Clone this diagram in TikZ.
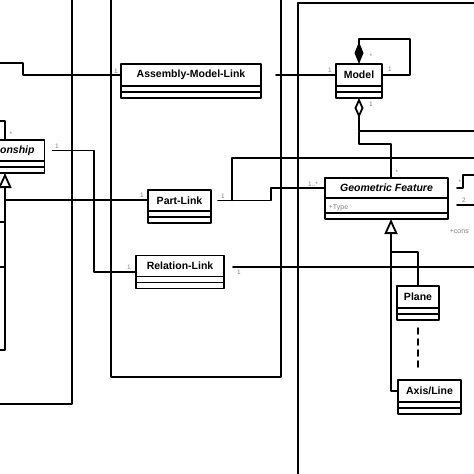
\documentclass[tikz,border=0pt]{standalone}
\usepackage{fontspec}
\setmainfont{Liberation Sans}
\usetikzlibrary{arrows.meta}

\begin{document}
\begin{tikzpicture}[x=1pt,y=-1pt,line cap=round,line join=round,line width=1.8pt,
    umlclass/.style={draw,fill=white,inner sep=0pt,outer sep=0pt,font=\fontsize{10.5}{12}\selectfont\bfseries},
    mult/.style={inner sep=0pt,text=gray,font=\fontsize{6.5}{7}\selectfont},
    attr/.style={inner sep=0pt,text=gray,font=\fontsize{7}{8}\selectfont},
    gen/.style={{Triangle[open,length=15pt,width=13pt]}-},
    agg/.style={{Diamond[open,length=20pt,width=9pt]}-},
    comp/.style={{Diamond[length=22pt,width=9pt]}-}]
    \useasboundingbox (0,0) rectangle (474,474);
    % packages
    \draw (-10,-10) rectangle (72,404);
    \draw (111,-10) rectangle (281,377);
    \draw (298,3) rectangle (490,490);
    % classes
    \node[umlclass,minimum width=140pt,minimum height=22pt] (aml) at (191,75) {Assembly-Model-Link};
    \node[umlclass,minimum width=46pt,minimum height=22pt] (model) at (359,75) {Model};
    \node[umlclass,minimum width=63pt,minimum height=21pt] (pl) at (179.5,200.5) {Part-Link};
    \node[umlclass,minimum width=88pt,minimum height=21pt] (rl) at (180,266) {Relation-Link};
    \node[umlclass,minimum width=83pt,minimum height=21pt,font=\fontsize{10.5}{12}\selectfont\bfseries\itshape] (rel) at (3,150.5) {Relationship};
    \node[umlclass,minimum width=123pt,minimum height=20pt,font=\fontsize{10.5}{12}\selectfont\bfseries\itshape] (gf) at (386.5,188) {Geometric Feature};
    \node[umlclass,minimum width=42pt,minimum height=22pt] (plane) at (418,297) {Plane};
    \node[umlclass,minimum width=63pt,minimum height=22pt] (axis) at (429.5,391) {Axis/Line};
    \foreach \c in {aml,model,pl,rl,rel,plane,axis}
      \draw (\c.south west) rectangle ([yshift=-6pt]\c.south east)
            ([yshift=-6pt]\c.south west) rectangle ([yshift=-12pt]\c.south east);
    \draw (gf.south west) rectangle ([yshift=-15pt]gf.south east)
          ([yshift=-15pt]gf.south west) rectangle ([yshift=-21pt]gf.south east);
    \node[attr,anchor=west] (type) at ([shift={(3pt,-10pt)}]gf.south west) {+Type};

    % Assembly-Model-Link
    \coordinate (amlin) at (0,63);
    \draw (amlin) -| (23,75) -- (aml.west);
    \node[mult] at (116,71) {1};
    \coordinate (amlout) at ([xshift=15pt]aml.east);
    \draw (amlout) -- (model.west);
    \node[mult] at (330,70) {1};

    % Model
    \draw[comp] (model.north) -- ++(0,-25) -| (410,75) -- (model.east);
    \node[mult] at (371,56) {*};
    \node[mult] at (390,69) {1};
    \coordinate (mb) at ([yshift=-12pt]model.south);
    \draw[agg] (mb) |- (490,131);
    \node[mult] at (371,104) {1};
    \coordinate (mj) at ([yshift=-34pt]mb);
    \draw (mj) -- ++(0,12) -| ([xshift=4.5pt]gf.north);
    \node[mult] at (397,172) {*};

    % Part-Link
    \coordinate (plin) at (5,200);
    \draw (plin) -- (pl.west |- plin);
    \node[mult] at (142,195) {1};
    \coordinate (plout) at ([xshift=7pt]pl.east);
    \draw (plout) -- ++(53,0) |- (gf.west);
    \draw ([xshift=21pt]pl.east) |- (490,158);
    \node[mult] at (223,196) {1};
    \node[mult] at (313,184) {1..*};

    % Relationship
    \draw ([xshift=2pt]rel.north) |- (-5,121);
    \node[mult] at (11,134) {*};
    \draw[gen] ([shift={(2pt,-12pt)}]rel.south) -- (5,350) -- (-5,350);
    \draw (5,222) -- (-5,222) (5,267) -- (-5,267);
    \draw ([xshift=8pt]rel.east) -| (94,272) -- ([yshift=-6pt]rl.west);
    \node[mult] at (57,146) {1};
    \node[mult] at (129,267) {1};

    % Relation-Link
    \draw ([shift={(9pt,-1pt)}]rl.east) -- ++(260,0);
    \node[mult] at (239,272) {1};

    % Geometric Feature
    \coordinate (gfb) at ([shift={(4.5pt,-21pt)}]gf.south);
    \draw[gen] (gfb) |- (axis.west);
    \draw ([yshift=-33pt]gfb) -| (plane.north);
    \draw[dash pattern=on 6pt off 5pt] ([yshift=-20pt]plane.south) -- ++(0,41);
    \draw (457,188) -| (463,175) -- (490,175);
    \draw (457,205) -- (490,205);
    \node[mult] at (460,182) {*};
    \node[mult] at (464,200) {2};
    \node[attr,anchor=west] at (449,232) {+cons};
\end{tikzpicture}
\end{document}
